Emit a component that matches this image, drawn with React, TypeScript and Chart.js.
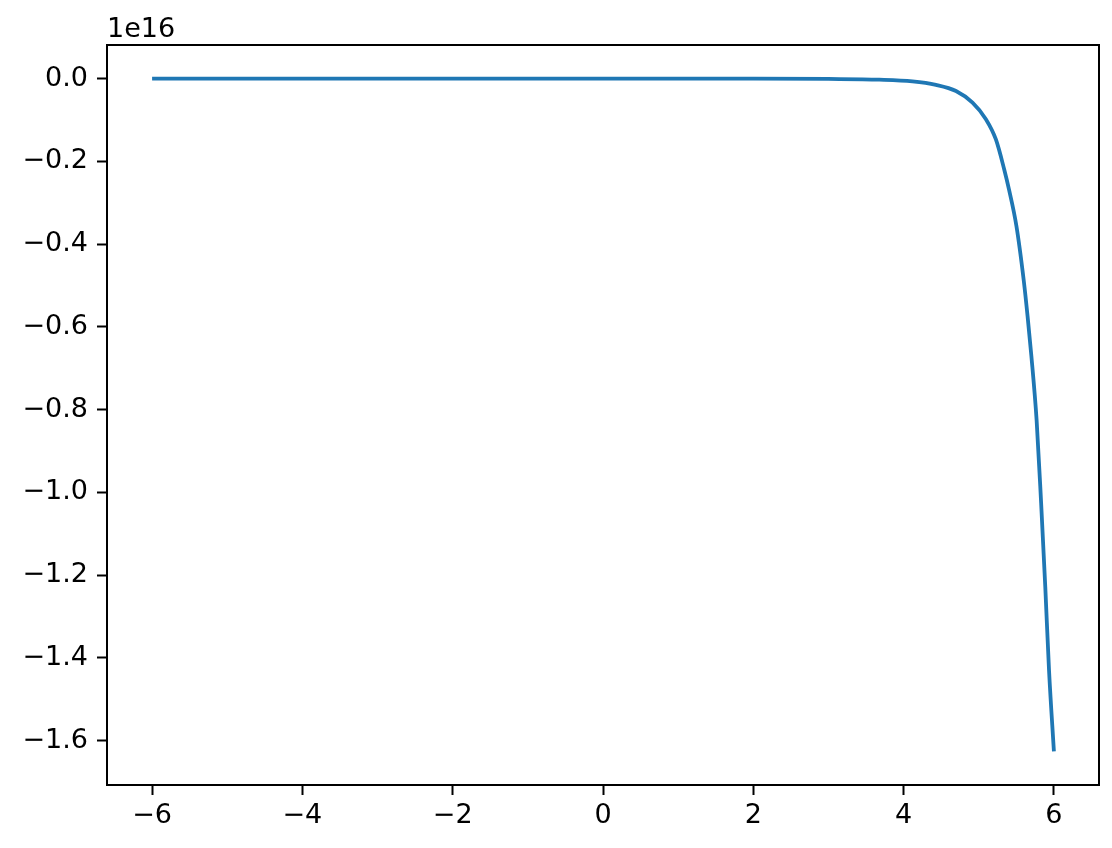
import React, { useEffect, useRef } from "react";
import { Chart, registerables } from "chart.js";

Chart.register(...registerables);

// Curve (y in units of 1e16)
const xValues: number[] = [
  -6, -5, -4, -3, -2, -1, 0, 1, 2, 3, 3.675, 4.118, 4.43, 4.697, 4.917, 5.095, 5.228, 5.338,
  5.405, 5.5, 5.6, 5.65, 5.7, 5.77, 5.83, 5.885, 5.935, 6.0,
];
const yValuesE16: number[] = [
  0, 0, 0, 0, 0, 0, 0, 0, 0, -0.0008, -0.0025, -0.0065, -0.015, -0.03, -0.058, -0.098, -0.147,
  -0.219, -0.27, -0.355, -0.49, -0.575, -0.67, -0.826, -1.026, -1.228, -1.43, -1.626,
];
const xTicks: number[] = [-6, -4, -2, 0, 2, 4, 6];
const yTicksE16: number[] = [0, -0.2, -0.4, -0.6, -0.8, -1.0, -1.2, -1.4, -1.6];
const offsetLabel = "1e16";

const FONT = "'DejaVu Sans', sans-serif";
const FONT_SIZE = 27;

const minus = (s: string) => s.replace("-", "\u2212");

export default function App() {
  const ref = useRef<HTMLCanvasElement | null>(null);

  useEffect(() => {
    if (!ref.current) return;
    const points = xValues.map((x, i) => ({ x, y: yValuesE16[i] * 1e16 }));
    const yMinData = Math.min(...yValuesE16);
    const yMaxData = Math.max(...yValuesE16);
    const yMargin = (yMaxData - yMinData) * 0.05;
    const xMargin = (Math.max(...xValues) - Math.min(...xValues)) * 0.05;

    const framePlugin = {
      id: "frame",
      afterDraw(chart: any) {
        const { ctx, chartArea } = chart;
        ctx.save();
        ctx.strokeStyle = "#000";
        ctx.lineWidth = 2;
        ctx.strokeRect(
          chartArea.left,
          chartArea.top,
          chartArea.right - chartArea.left,
          chartArea.bottom - chartArea.top
        );
        ctx.fillStyle = "#000";
        ctx.font = `${FONT_SIZE}px ${FONT}`;
        ctx.textAlign = "left";
        ctx.textBaseline = "alphabetic";
        ctx.fillText(offsetLabel, chartArea.left, 37);
        ctx.restore();
      },
    };

    const chart = new Chart(ref.current, {
      type: "scatter",
      data: {
        datasets: [
          {
            data: points,
            showLine: true,
            borderColor: "#1f77b4",
            backgroundColor: "#1f77b4",
            borderWidth: 3.8,
            pointRadius: 0,
            cubicInterpolationMode: "monotone",
            borderJoinStyle: "round",
            borderCapStyle: "butt",
          },
        ],
      },
      options: {
        animation: false,
        responsive: false,
        devicePixelRatio: 1,
        layout: { padding: { top: 45, right: 13, left: 0, bottom: 0 } },
        plugins: {
          legend: { display: false },
          tooltip: { enabled: false },
        },
        scales: {
          x: {
            type: "linear",
            min: Math.min(...xValues) - xMargin,
            max: Math.max(...xValues) + xMargin,
            afterBuildTicks: (scale: any) => {
              scale.ticks = xTicks.map((v) => ({ value: v }));
            },
            afterFit: (scale: any) => {
              scale.height = 63;
            },
            grid: {
              drawOnChartArea: false,
              drawTicks: true,
              tickLength: 10,
              tickWidth: 2,
              tickColor: "#000",
            },
            border: { display: true, color: "#000", width: 2 },
            ticks: {
              color: "#000",
              font: { family: FONT, size: FONT_SIZE },
              padding: 5,
              maxRotation: 0,
              callback: (v: any) => minus(String(Math.round(Number(v)))),
            },
          },
          y: {
            type: "linear",
            min: (yMinData - yMargin) * 1e16,
            max: (yMaxData + yMargin) * 1e16,
            afterBuildTicks: (scale: any) => {
              scale.ticks = yTicksE16.map((v) => ({ value: v * 1e16 }));
            },
            afterFit: (scale: any) => {
              scale.width = 107;
            },
            grid: {
              drawOnChartArea: false,
              drawTicks: true,
              tickLength: 10,
              tickWidth: 2,
              tickColor: "#000",
            },
            border: { display: true, color: "#000", width: 2 },
            ticks: {
              color: "#000",
              font: { family: FONT, size: FONT_SIZE },
              padding: 9,
              callback: (v: any) => {
                const n = Number(v) / 1e16;
                const s = (Math.abs(n) < 1e-9 ? 0 : n).toFixed(1);
                return minus(s);
              },
            },
          },
        },
      },
      plugins: [framePlugin],
    });
    return () => chart.destroy();
  }, []);

  return (
    <div style={{ position: "fixed", left: 0, top: 0, width: 1112, height: 848, background: "#fff" }}>
      <canvas ref={ref} width={1112} height={848} style={{ width: 1112, height: 848, display: "block" }} />
    </div>
  );
}
